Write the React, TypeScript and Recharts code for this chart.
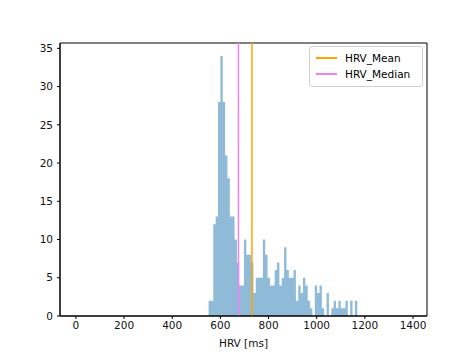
import {
  ComposedChart,
  Area,
  XAxis,
  YAxis,
  ReferenceLine,
  ReferenceArea,
} from "recharts";

// histogram of HRV values (counts per bin)
const BIN_START = 551;
const BIN_WIDTH = 9.8;
const COUNTS = [
  2, 2, 12, 13, 28, 34, 28, 21, 18, 13, 13, 10, 7, 4, 4, 10, 8, 8, 7, 3, 5, 5,
  5, 10, 8, 5, 4, 4, 6, 7, 4, 5, 9, 6, 5, 5, 6, 2, 4, 3, 5, 4, 2, 1, 0, 4, 3,
  4, 1, 0, 3, 0, 1, 2, 1, 2, 1, 1, 2, 0, 2, 0, 2,
];

const HRV_MEAN = 731;
const HRV_MEDIAN = 675;

const X_TICKS = [0, 200, 400, 600, 800, 1000, 1200, 1400];
const Y_TICKS = [0, 5, 10, 15, 20, 25, 30, 35];
const X_DOMAIN: [number, number] = [-66, 1458];
const Y_DOMAIN: [number, number] = [0, 35.7];

const LEGEND_ITEMS = [
  { name: "HRV_Mean", color: "#ffa500" },
  { name: "HRV_Median", color: "#ee82ee" },
];

const histData = [
  ...COUNTS.map((c, i) => ({ x: BIN_START + i * BIN_WIDTH, count: c })),
  { x: BIN_START + COUNTS.length * BIN_WIDTH, count: 0 },
];

const FONT = "DejaVu Sans, sans-serif";

function LegendBox() {
  return (
    <div
      style={{
        position: "absolute",
        top: 46,
        left: 309,
        width: 100,
        border: "1px solid #d0d0d0",
        borderRadius: 3,
        background: "rgba(255,255,255,0.8)",
        padding: "3px 6px 4px 6px",
        fontFamily: FONT,
        fontSize: 10.5,
        color: "#000",
        lineHeight: "16px",
      }}
    >
      {LEGEND_ITEMS.map((it) => (
        <div key={it.name} style={{ display: "flex", alignItems: "center" }}>
          <span
            style={{
              display: "inline-block",
              width: 21,
              height: 1.5,
              background: it.color,
              marginRight: 8,
            }}
          />
          {it.name}
        </div>
      ))}
    </div>
  );
}

export default function App() {
  return (
    <div
      style={{
        position: "fixed",
        top: 0,
        left: 0,
        width: 474,
        height: 355,
        background: "#fff",
      }}
    >
      <ComposedChart
        width={474}
        height={355}
        data={histData}
        margin={{ top: 43, right: 47, bottom: 0, left: 0 }}
      >
        <XAxis
          dataKey="x"
          type="number"
          domain={X_DOMAIN}
          ticks={X_TICKS}
          allowDataOverflow
          height={39}
          tickSize={3}
          tickMargin={3}
          stroke="#000"
          tick={{ fontSize: 10.5, fill: "#111", fontFamily: FONT }}
          label={{
            value: "HRV [ms]",
            position: "insideBottom",
            offset: 8,
            style: { fontSize: 10.5, fill: "#111", fontFamily: FONT },
          }}
        />
        <YAxis
          type="number"
          domain={Y_DOMAIN}
          ticks={Y_TICKS}
          allowDataOverflow
          width={60}
          tickSize={3}
          tickMargin={4}
          stroke="#000"
          tick={{ fontSize: 10.5, fill: "#111", fontFamily: FONT }}
        />
        <Area
          type="stepAfter"
          dataKey="count"
          stroke="none"
          fill="#1f77b4"
          fillOpacity={0.5}
          isAnimationActive={false}
          dot={false}
          activeDot={false}
        />
        <ReferenceLine x={HRV_MEAN} stroke="#ffa500" strokeWidth={1.5} />
        <ReferenceLine x={HRV_MEDIAN} stroke="#ee82ee" strokeWidth={1.5} />
        <ReferenceArea
          x1={X_DOMAIN[0]}
          x2={X_DOMAIN[1]}
          y1={Y_DOMAIN[0]}
          y2={Y_DOMAIN[1]}
          fill="none"
          stroke="#000"
          strokeWidth={1}
        />
      </ComposedChart>
      <LegendBox />
    </div>
  );
}
